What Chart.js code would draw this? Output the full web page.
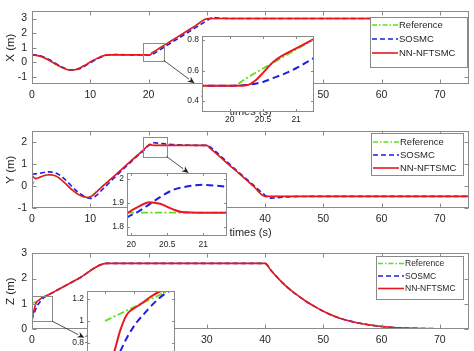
<!DOCTYPE html>
<html>
<head>
<meta charset="utf-8">
<script src="https://cdn.jsdelivr.net/npm/chart.js@4.4.1/dist/chart.umd.min.js"></script>
<style>
  html, body { margin: 0; padding: 0; background: #fff; overflow: hidden; width: 474px; height: 351px; }
  canvas { position: absolute; display: block; }
</style>
</head>
<body>
<canvas id="cX" width="474" height="120" style="left:0;top:0"></canvas>
<canvas id="cY" width="474" height="122" style="left:0;top:120px"></canvas>
<canvas id="cZ" width="474" height="130" style="left:0;top:242px"></canvas>
<canvas id="iX" width="142" height="102" style="left:180px;top:28px"></canvas>
<canvas id="iY" width="130" height="90" style="left:105px;top:165px"></canvas>
<canvas id="iZ" width="118" height="100" style="left:65px;top:283px"></canvas>
<script>
const names = ["Reference", "SOSMC", "NN-NFTSMC"];
const timeTicks = [0, 10, 20, 30, 40, 50, 60, 70];

// X position (m)
const tX = [0,1,2,3,4,5,6,7,8,9, 10,11,12,13,14,16,18,19.5,20,20.05, 20.25,20.4,20.5,20.65,20.8,21,21.3,22,23,25, 28,30,30.5,31,32,35,45,55,65,75];
const xRef = [0.5,0.44,0.31,0.11,-0.13,-0.35,-0.5,-0.53,-0.42,-0.22, 0.02,0.24,0.41,0.5,0.5,0.5,0.5,0.5,0.5,0.5, 0.55,0.588,0.613,0.65,0.688,0.738,0.813,0.988,1.238,1.738, 2.488,2.988,3,3,3,3,3,3,3,3];
const xSos = [0.52,0.48,0.36,0.17,-0.07,-0.3,-0.48,-0.55,-0.47,-0.28, -0.04,0.19,0.38,0.5,0.53,0.51,0.5,0.5,0.5,0.5, 0.505,0.515,0.525,0.55,0.575,0.615,0.69,0.86,1.11,1.61, 2.36,2.86,2.98,3.08,3.04,3,3,3,3,3];
const xNn = [0.5,0.45,0.32,0.12,-0.12,-0.34,-0.5,-0.54,-0.43,-0.23, 0.01,0.23,0.41,0.5,0.5,0.5,0.5,0.5,0.5,0.5, 0.503,0.54,0.585,0.655,0.7,0.745,0.815,0.99,1.24,1.74, 2.49,2.99,3,3,3,3,3,3,3,3];

// Y position (m)
const tY = [0,0.3,0.7,1.2,2,3,4,5,6,7, 8,9,9.5,10,10.5,11,12,14,16,18, 19,19.5,19.94,20.1,20.25,20.4,20.58,20.7,21,21.33, 22,24,26,28,30,30.5,31,33,35,38, 40,40.5,41,42,43,45,50,60,75];
const yRef = [0,0.18,0.33,0.4,0.47,0.52,0.47,0.3,0.05,-0.2, -0.39,-0.49,-0.52,-0.5,-0.39,-0.27,-0.03,0.43,0.91,1.39, 1.62,1.75,1.86,1.86,1.86,1.86,1.86,1.86,1.86,1.86, 1.86,1.86,1.86,1.86,1.86,1.74,1.63,1.16,0.7,0, -0.47,-0.47,-0.47,-0.47,-0.47,-0.47,-0.47,-0.47,-0.47];
const ySos = [0.55,0.55,0.56,0.58,0.62,0.65,0.6,0.46,0.22,-0.06, -0.3,-0.47,-0.53,-0.56,-0.53,-0.44,-0.18,0.35,0.86,1.35, 1.58,1.71,1.84,1.865,1.895,1.925,1.955,1.965,1.976,1.968, 1.95,1.9,1.87,1.86,1.86,1.8,1.7,1.22,0.74,0.05, -0.42,-0.51,-0.55,-0.54,-0.51,-0.48,-0.47,-0.47,-0.47];
const yNn = [0.5,0.4,0.35,0.38,0.47,0.52,0.47,0.3,0.05,-0.2, -0.39,-0.5,-0.52,-0.49,-0.41,-0.29,-0.04,0.43,0.91,1.39, 1.62,1.75,1.857,1.885,1.904,1.897,1.874,1.863,1.86,1.86, 1.86,1.86,1.86,1.86,1.86,1.745,1.63,1.16,0.7,0, -0.47,-0.47,-0.47,-0.47,-0.47,-0.47,-0.47,-0.47,-0.47];

// Z position (m)
const tZ = [0,0.17,0.34,0.52,0.76,1.1,1.3,1.5,1.8,2.2, 2.6,3,4,5,8,12.8,20,30,40,41, 42,43,44,45,46,47,48,50,52,54, 56,58,60,62,65,70,75];
const zRef = [1,1.021,1.043,1.065,1.095,1.138,1.163,1.188,1.225,1.275, 1.325,1.375,1.5,1.625,2,2.6,2.6,2.6,2.6,2.33, 2.07,1.83,1.62,1.43,1.26,1.1,0.96,0.7,0.5,0.35, 0.24,0.16,0.1,0.06,0.03,0.01,0];
const zSos = [0.35,0.5,0.62,0.72,0.85,0.99,1.05,1.11,1.19,1.27, 1.32,1.372,1.5,1.625,2,2.6,2.6,2.6,2.6,2.33, 2.07,1.83,1.62,1.43,1.26,1.1,0.96,0.7,0.5,0.35, 0.24,0.16,0.1,0.06,0.03,0.01,0];
const zNn = [0.45,0.6,0.74,0.91,1.06,1.13,1.165,1.205,1.255,1.295, 1.335,1.378,1.5,1.625,2,2.6,2.6,2.6,2.6,2.33, 2.07,1.83,1.62,1.43,1.26,1.1,0.96,0.7,0.5,0.35, 0.24,0.16,0.1,0.06,0.03,0.01,0];

const FONT = "'Liberation Sans', Arial, Helvetica, sans-serif";
const TXT = "#262626";
const EDGE = "#8a8a8a";
const GREEN = "#62dc1e";
const BLUE = "#1d1de8";
const RED = "#ea1620";

function pts(t, v) {
  return t.map((x, i) => ({ x: x, y: v[i] }));
}

function lineSets(t, ref, sos, nn, inset) {
  const w = inset ? 2 : 1.6;
  return [
    { label: names[0], data: pts(t, ref), borderColor: GREEN, borderWidth: inset ? 1.8 : 1.4,
      borderDash: inset ? [7, 2.5, 2, 2.5] : [5, 2, 1.5, 2], order: 3 },
    { label: names[1], data: pts(t, sos), borderColor: BLUE, borderWidth: w,
      borderDash: inset ? [7, 4] : [5, 3], order: 2 },
    { label: names[2], data: pts(t, nn), borderColor: RED, borderWidth: w, order: 1 },
  ];
}

function drawArrow(ctx, x0, y0, x1, y1) {
  const a = Math.atan2(y1 - y0, x1 - x0), h = 7, w = 3;
  const c = Math.cos(a), s = Math.sin(a);
  ctx.strokeStyle = "#222";
  ctx.fillStyle = "#222";
  ctx.lineWidth = 0.8;
  ctx.setLineDash([]);
  ctx.beginPath();
  ctx.moveTo(x0, y0);
  ctx.lineTo(x1 - h * c, y1 - h * s);
  ctx.stroke();
  ctx.beginPath();
  ctx.moveTo(x1, y1);
  ctx.lineTo(x1 - h * c + w * s, y1 - h * s - w * c);
  ctx.lineTo(x1 - h * c * 0.7, y1 - h * s * 0.7);
  ctx.lineTo(x1 - h * c - w * s, y1 - h * s + w * c);
  ctx.closePath();
  ctx.fill();
}

function drawZoom(chart, z) {
  const { ctx, scales: { x, y } } = chart;
  const l = x.getPixelForValue(z.box[0]), r = x.getPixelForValue(z.box[1]);
  const b = y.getPixelForValue(z.box[2]), t = y.getPixelForValue(z.box[3]);
  ctx.strokeStyle = EDGE;
  ctx.lineWidth = 1;
  ctx.strokeRect(Math.round(l) + 0.5, Math.round(t) + 0.5, Math.round(r - l), Math.round(b - t));
  drawArrow(ctx, x.getPixelForValue(z.from[0]), y.getPixelForValue(z.from[1]),
    x.getPixelForValue(z.to[0]), y.getPixelForValue(z.to[1]));
}

function drawLegend(chart, lg) {
  const ctx = chart.ctx;
  ctx.fillStyle = "#fff";
  ctx.fillRect(lg.left, lg.top, lg.right - lg.left, lg.bottom - lg.top);
  ctx.strokeStyle = EDGE;
  ctx.lineWidth = 1;
  ctx.setLineDash([]);
  ctx.strokeRect(lg.left + 0.5, lg.top + 0.5, lg.right - lg.left, lg.bottom - lg.top);
  ctx.font = lg.size + "px " + FONT;
  ctx.textBaseline = "middle";
  ctx.textAlign = "left";
  chart.data.datasets.forEach((ds, i) => {
    const yy = lg.rows[i];
    ctx.strokeStyle = ds.borderColor;
    ctx.lineWidth = ds.borderWidth;
    ctx.setLineDash(ds.borderDash || []);
    ctx.beginPath();
    ctx.moveTo(lg.left + 2, yy);
    ctx.lineTo(lg.left + 28, yy);
    ctx.stroke();
    ctx.setLineDash([]);
    ctx.fillStyle = TXT;
    ctx.fillText(ds.label, lg.left + 29, yy + 0.5);
  });
}

// box, inward ticks on all four sides, legend and zoom marker
function decoPlugin(cfg) {
  return {
    id: "deco",
    beforeDraw(chart) {
      if (!cfg.fill) return;
      const a = chart.chartArea, ctx = chart.ctx;
      ctx.save();
      ctx.fillStyle = "#fff";
      ctx.fillRect(a.left, a.top, a.right - a.left, a.bottom - a.top);
      ctx.restore();
    },
    afterDraw(chart) {
      const { ctx, chartArea: a, scales } = chart;
      const L = cfg.tick;
      const l = Math.round(a.left) + 0.5, r = Math.round(a.right) - 0.5;
      const t = Math.round(a.top) + 0.5, b = Math.round(a.bottom) - 0.5;
      ctx.save();
      ctx.strokeStyle = EDGE;
      ctx.lineWidth = 1;
      ctx.strokeRect(l, t, r - l, b - t);
      ctx.beginPath();
      scales.x.ticks.forEach(k => {
        const p = Math.round(scales.x.getPixelForValue(k.value)) + 0.5;
        ctx.moveTo(p, b); ctx.lineTo(p, b - L);
        ctx.moveTo(p, t); ctx.lineTo(p, t + L);
      });
      scales.y.ticks.forEach(k => {
        const p = Math.round(scales.y.getPixelForValue(k.value)) + 0.5;
        ctx.moveTo(l, p); ctx.lineTo(l + L, p);
        ctx.moveTo(r, p); ctx.lineTo(r - L, p);
      });
      ctx.stroke();
      if (cfg.zoom) drawZoom(chart, cfg.zoom);
      if (cfg.legend) drawLegend(chart, cfg.legend);
      ctx.restore();
    },
  };
}

function build(id, sets, o) {
  const tickFont = { family: FONT, size: o.tickSize };
  return new Chart(document.getElementById(id), {
    type: "line",
    data: { datasets: sets },
    plugins: [decoPlugin(o.deco)],
    options: {
      responsive: false,
      animation: false,
      events: [],
      layout: { padding: o.pad },
      elements: { point: { radius: 0 }, line: { cubicInterpolationMode: "monotone", fill: false } },
      plugins: { legend: { display: false }, tooltip: { enabled: false } },
      scales: {
        x: {
          type: "linear", min: o.xr[0], max: o.xr[1],
          grid: { display: false, drawTicks: false }, border: { display: false },
          ticks: { color: TXT, font: tickFont, padding: o.xPad, maxRotation: 0, autoSkip: false, callback: v => String(v) },
          afterBuildTicks: s => { s.ticks = o.xt.map(v => ({ value: v })); },
          afterFit: s => { s.height = o.xH; },
          title: o.xTitle
            ? { display: true, text: o.xTitle, color: TXT, font: { family: FONT, size: 11 }, padding: 0 }
            : { display: false },
        },
        y: {
          type: "linear", min: o.yr[0], max: o.yr[1],
          grid: { display: false, drawTicks: false }, border: { display: false },
          ticks: { color: TXT, font: tickFont, padding: o.yPad, autoSkip: false, callback: v => String(v) },
          afterBuildTicks: s => { s.ticks = o.yt.map(v => ({ value: v })); },
          afterFit: s => { s.width = o.yW; },
          title: o.yTitle
            ? { display: true, text: o.yTitle, color: TXT, font: { family: FONT, size: 11.5 }, padding: { top: 4, bottom: 0 } }
            : { display: false },
        },
      },
    },
  });
}

// main panels
build("cX", lineSets(tX, xRef, xSos, xNn, false), {
  xr: [0, 75], yr: [-1.5, 3.5], xt: timeTicks, yt: [-1, 0, 1, 2, 3],
  pad: { top: 6, right: 5, left: 0, bottom: 1 }, xH: 35, yW: 32, tickSize: 10.5, xPad: 5, yPad: 5,
  xTitle: "times (s)", yTitle: "X (m)",
  deco: { tick: 4,
    legend: { left: 370, right: 467, top: 17, bottom: 67, rows: [25, 39, 53], size: 9.5 },
    zoom: { box: [19.0, 22.6, 0.13, 1.35], from: [22.6, 0.13], to: [27.9, -1.45] } },
});

build("cY", lineSets(tY, yRef, ySos, yNn, false), {
  xr: [0, 75], yr: [-1, 2.5], xt: timeTicks, yt: [-1, 0, 1, 2],
  pad: { top: 8, right: 5, left: 0, bottom: 2.5 }, xH: 31.5, yW: 32, tickSize: 10.5, xPad: 5, yPad: 5,
  xTitle: "times (s)", yTitle: "Y (m)",
  deco: { tick: 4,
    legend: { left: 371, right: 463, top: 13, bottom: 55, rows: [22, 35, 48], size: 9.5 },
    zoom: { box: [19.0, 23.1, 1.35, 2.26], from: [23.1, 1.35], to: [26.9, 0.6] } },
});

build("cZ", lineSets(tZ, zRef, zSos, zNn, false), {
  xr: [0, 75], yr: [0, 3], xt: timeTicks, yt: [0, 1, 2, 3],
  pad: { top: 10, right: 5, left: 0, bottom: 8 }, xH: 35, yW: 32, tickSize: 10.5, xPad: 5, yPad: 5,
  xTitle: "times (s)", yTitle: "Z (m)",
  deco: { tick: 4,
    legend: { left: 376, right: 463, top: 14, bottom: 57, rows: [21.5, 34, 46.5], size: 8.5 },
    zoom: { box: [0, 3.45, 0.31, 1.32], from: [3.45, 0.31], to: [9.0, -0.35] } },
});

// zoomed insets
build("iX", lineSets(tX, xRef, xSos, xNn, true), {
  xr: [19.58, 21.27], yr: [0.328, 0.826], xt: [20, 20.5, 21], yt: [0.4, 0.6, 0.8],
  pad: { top: 8, right: 8, left: 0, bottom: 0 }, xH: 18, yW: 22, tickSize: 8.5, xPad: 3, yPad: 3,
  deco: { tick: 2.5, fill: true },
});

build("iY", lineSets(tY, yRef, ySos, yNn, true), {
  xr: [19.94, 21.33], yr: [1.763, 2.025], xt: [20, 20.5, 21], yt: [1.8, 1.9, 2],
  pad: { top: 7, right: 8, left: 0, bottom: 0 }, xH: 19, yW: 22, tickSize: 8.5, xPad: 4, yPad: 3,
  deco: { tick: 2.5, fill: true },
});

build("iZ", lineSets(tZ, zRef, zSos, zNn, true), {
  xr: [-0.62, 2.41], yr: [0.6, 1.27], xt: [0, 1, 2], yt: [0.6, 0.8, 1, 1.2],
  pad: { top: 7, right: 8, left: 0, bottom: 0 }, xH: 18, yW: 22, tickSize: 8.5, xPad: 3, yPad: 3,
  deco: { tick: 2.5, fill: true },
});
</script>
</body>
</html>
